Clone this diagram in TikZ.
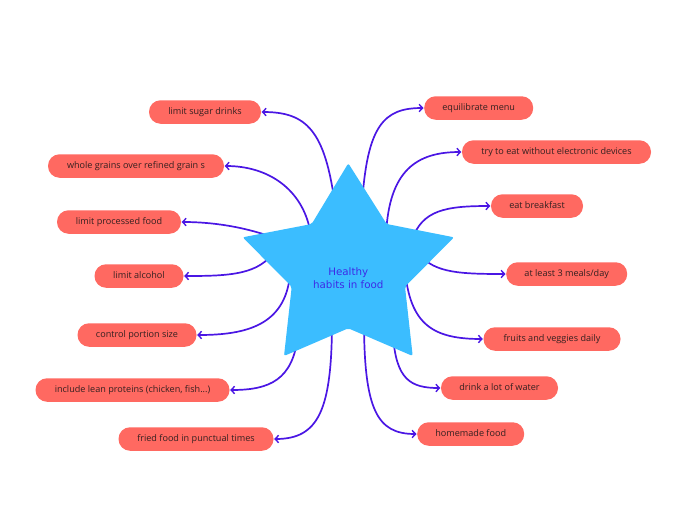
\documentclass[tikz,border=0pt]{standalone}
\usepackage{fontspec}
\setmainfont{Open Sans}
\newfontfamily\centerfont{DejaVu Sans}
\usetikzlibrary{arrows.meta}
\definecolor{boxred}{HTML}{FF6961}
\definecolor{linecol}{HTML}{4A16E4}
\definecolor{starblue}{HTML}{3BBDFF}
\definecolor{centertxt}{HTML}{3D2BE6}
\definecolor{boxtxt}{HTML}{342020}
\tikzset{
  leaf/.style={fill=boxred, draw=none, rounded corners=11.5pt, minimum height=23.5pt,
    inner xsep=0pt, text=boxtxt, text height=6.6pt, text depth=1.6pt,
    font=\fontsize{9.1}{10}\selectfont},
  conn/.style={draw=linecol, line width=1.7pt, -{Straight Barb[length=3.5pt,width=7.5pt,line width=1.4pt]}, shorten >=0.5pt},
}
\begin{document}
\begin{tikzpicture}[x=1pt,y=-1pt]
\useasboundingbox (0,0) rectangle (697,520);
% leaves, left
\node[leaf, minimum width=112pt] (b1) at (205,112) {limit sugar drinks};
\node[leaf, minimum width=176pt] (b2) at (136,166) {whole grains over refined grain s};
\node[leaf, minimum width=124pt] (b3) at (119,222) {limit processed food};
\node[leaf, minimum width=89pt]  (b4) at (139,276) {limit alcohol};
\node[leaf, minimum width=119pt] (b5) at (137,335) {control portion size};
\node[leaf, minimum width=194pt] (b6) at (132.5,390) {include lean proteins (chicken, fish...)};
\node[leaf, minimum width=155pt] (b7) at (196,439) {fried food in punctual times};
% leaves, right
\node[leaf, minimum width=109pt] (b8) at (478.7,108) {equilibrate menu};
\node[leaf, minimum width=189pt] (b9) at (556.5,152) {try to eat without electronic devices};
\node[leaf, minimum width=92pt]  (b10) at (537,206) {eat breakfast};
\node[leaf, minimum width=121pt] (b11) at (566.7,274) {at least 3 meals/day};
\node[leaf, minimum width=137pt] (b12) at (552,339) {fruits and veggies daily};
\node[leaf, minimum width=117pt] (b13) at (499.5,388) {drink a lot of water};
\node[leaf, minimum width=107pt] (b14) at (470.7,434) {homemade food};
% start points hidden under the star
\coordinate (s1) at (335,205);
\coordinate (s2) at (310,230);
\coordinate (s3) at (280,240);
\coordinate (s4) at (275,250);
\coordinate (s5) at (290,275);
\coordinate (s6) at (298,335);
\coordinate (s7) at (332,320);
\coordinate (s8) at (362,205);
\coordinate (s9) at (386,235);
\coordinate (s10) at (412,240);
\coordinate (s11) at (420,255);
\coordinate (s12) at (405,270);
\coordinate (s13) at (393,335);
\coordinate (s14) at (364,320);
% connectors
\draw[conn] (s1) .. controls +(-10,-75) and +(45,0) .. (b1.east);
\draw[conn] (s2) .. controls +(-8,-40) and +(45,0) .. (b2.east);
\draw[conn] (s3) .. controls +(-25,-10) and +(40,0) .. (b3.east);
\draw[conn] (s4) .. controls +(-15,25) and +(45,0) .. (b4.east);
\draw[conn] (s5) .. controls +(-5,50) and +(50,0) .. (b5.east);
\draw[conn] (s6) .. controls +(-5,45) and +(40,0) .. (b6.east);
\draw[conn] (s7) .. controls +(0,90) and +(45,0) .. (b7.east);
\draw[conn] (s8) .. controls +(5,-80) and +(-40,0) .. (b8.west);
\draw[conn] (s9) .. controls +(3,-65) and +(-45,0) .. (b9.west);
\draw[conn] (s10) .. controls +(10,-30) and +(-45,0) .. (b10.west);
\draw[conn] (s11) .. controls +(15,18) and +(-45,0) .. (b11.west);
\draw[conn] (s12) .. controls +(5,55) and +(-50,0) .. (b12.west);
\draw[conn] (s13) .. controls +(3,45) and +(-30,0) .. (b13.west);
\draw[conn] (s14) .. controls +(0,90) and +(-40,0) .. (b14.west);
% star
\fill[starblue, rounded corners=2pt] (348.3,163.3) -- (386.7,224) -- (454,237.3) -- (405,286.7)
  -- (412.7,356) -- (348.3,328.3) -- (284,356) -- (291.7,286.7) -- (242.7,237.3)
  -- (311.7,224) -- cycle;
\node[align=center, text=centertxt, font=\centerfont\fontsize{10.3}{13}\selectfont] (c) at (348.3,278.5) {Healthy\\habits in food};
\end{tikzpicture}
\end{document}
